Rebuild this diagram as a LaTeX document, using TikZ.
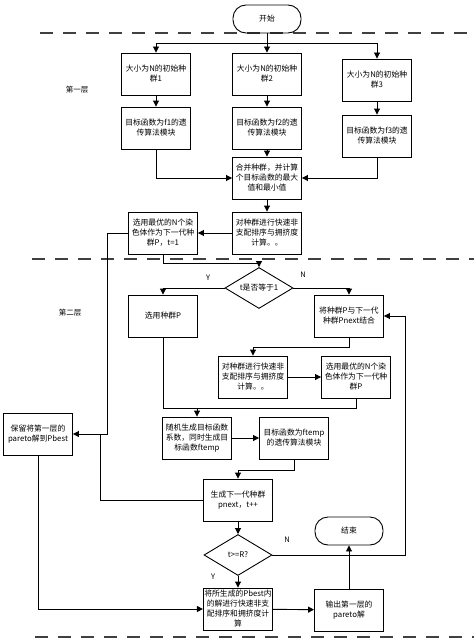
\documentclass[tikz,border=0pt]{standalone}
\usepackage{fontspec}
\setmainfont{Noto Sans CJK SC}
\usepackage{tikz}
\usetikzlibrary{arrows.meta,shapes.geometric,calc}

\begin{document}
\begin{tikzpicture}[x=1pt,y=-1pt,font=\fontsize{7.8}{10}\selectfont,
  box/.style={draw, line width=0.9pt, minimum width=69pt, minimum height=42pt,
              inner sep=1pt, align=center},
  term/.style={draw, line width=0.9pt, rounded corners=13pt, minimum width=68pt, minimum height=28pt},
  dec/.style={draw, line width=0.9pt, diamond, aspect=1.65, inner sep=0pt,
              minimum width=68pt, minimum height=41pt},
  ar/.style={-{Triangle[length=6pt,width=6pt]}, line width=0.9pt},
  ln/.style={line width=0.9pt},
  lbl/.style={font=\fontsize{7.5}{9}\selectfont},
  sep/.style={line width=1.1pt, black!75, dash pattern=on 13pt off 10pt}]
\useasboundingbox (0,0) rectangle (474,642);

% layer separators
\draw[sep] (40,33) -- (474,33);
\draw[sep] (32,259) -- (474,259);
\draw[sep] (35,637) -- (474,637);
\node[lbl] (L1) at (77,90) {第一层};
\node[lbl] (L2) at (70,313) {第二层};

% first layer
\node[term] (start) at (267,19) {开始};
\coordinate (br) at (267,43);
\node[box] (p1) at (156,74) {大小为N的初始种\\群1};
\node[box] (p2) at (267,74) {大小为N的初始种\\群2};
\node[box] (p3) at (377,80) {大小为N的初始种\\群3};
\node[box] (g1) at (156,128) {目标函数为f1的遗\\传算法模块};
\node[box] (g2) at (267,128) {目标函数为f2的遗\\传算法模块};
\node[box] (g3) at (377,136) {目标函数为f3的遗\\传算法模块};
\node[box] (merge) at (267,178) {合并种群，并计算\\个目标函数的最大\\值和最小值};
\node[box] (sort1) at (267,233) {对种群进行快速非\\支配排序与拥挤度\\计算。。};
\node[box] (sel1) at (163,233) {选用最优的N个染\\色体作为下一代种\\群P，t=1};

\draw[ln] (start) -- (br);
\draw[ar] (br) -| (p1);
\draw[ar] (br) -- (p2);
\draw[ar] (br) -| (p3);
\draw[ar] (p1) -- (g1); \draw[ar] (p2) -- (g2); \draw[ar] (p3) -- (g3);
\draw[ar] (g1) |- (merge);
\draw[ar] (g2) -- (merge);
\draw[ar] (g3) |- (merge);
\draw[ar] (merge) -- (sort1);
\draw[ar] (sort1) -- (sel1);

% second layer
\node[dec] (d1) at (259,288) {t是否等于1};
\node[lbl] (y1) at (208,278) {Y};
\node[lbl] (n1) at (303,275) {N};
\node[box] (selP) at (163,316) {选用种群P};
\node[box] (comb) at (349,316) {将种群P与下一代\\种群Pnext结合};
\node[box] (sort2) at (253,377) {对种群进行快速非\\支配排序与拥挤度\\计算。。};
\node[box] (sel2) at (356,377) {选用最优的N个染\\色体作为下一代种\\群P};
\node[box] (rand) at (197,438) {随机生成目标函数\\系数，同时生成目\\标函数ftemp};
\node[box] (ftmp) at (294,438) {目标函数为ftemp\\的遗传算法模块};
\node[box] (gen) at (238,500) {生成下一代种群\\pnext，t++};
\node[dec] (d2) at (238,555) {t>=R?};
\node[lbl] (n2) at (287,540) {N};
\node[lbl] (y2) at (213,577) {Y};
\node[box] (pbest) at (38,434) {保留将第一层的\\pareto解到Pbest};
\node[box] (fin) at (238,609) {将所生成的Pbest内\\的解进行快速非支\\配排序和拥挤度计\\算};
\node[box] (out) at (349,610) {输出第一层的\\pareto解};
\node[term] (end) at (349,531) {结束};
\coordinate (j1) at (107,434);
\coordinate (j3) at (197,408);
\coordinate (j4) at (100,434);
\coordinate (j5) at (405,316);

\draw[ar] (sel1.south) -- ++(0,9) -| (d1);
\draw[ar] (sel1) -| (j1) -- (pbest);
\draw[ar] (d1) -| (selP);
\draw[ar] (d1) -| (comb);
\draw[ar] (comb.south) -- ++(0,10) -| (sort2);
\draw[ar] (sort2) -- (sel2);
\draw[ln] (selP) |- (j3);
\draw[ar] (sel2.south) |- (j3) -- (rand);
\draw[ar] (rand) -- (ftmp);
\draw[ar] (ftmp.south) -- ++(0,11) -| (gen);
\draw[ln] (gen) -| (j4);
\draw[ar] (gen) -- (d2);
\draw[ar] (d2) -| (j5) -- (comb);
\draw[ar] (d2) -- (fin);
\draw[ar] (pbest) |- (fin);
\draw[ar] (fin) -- (out);
\draw[ar] (out) -- (end);
\end{tikzpicture}
\end{document}
